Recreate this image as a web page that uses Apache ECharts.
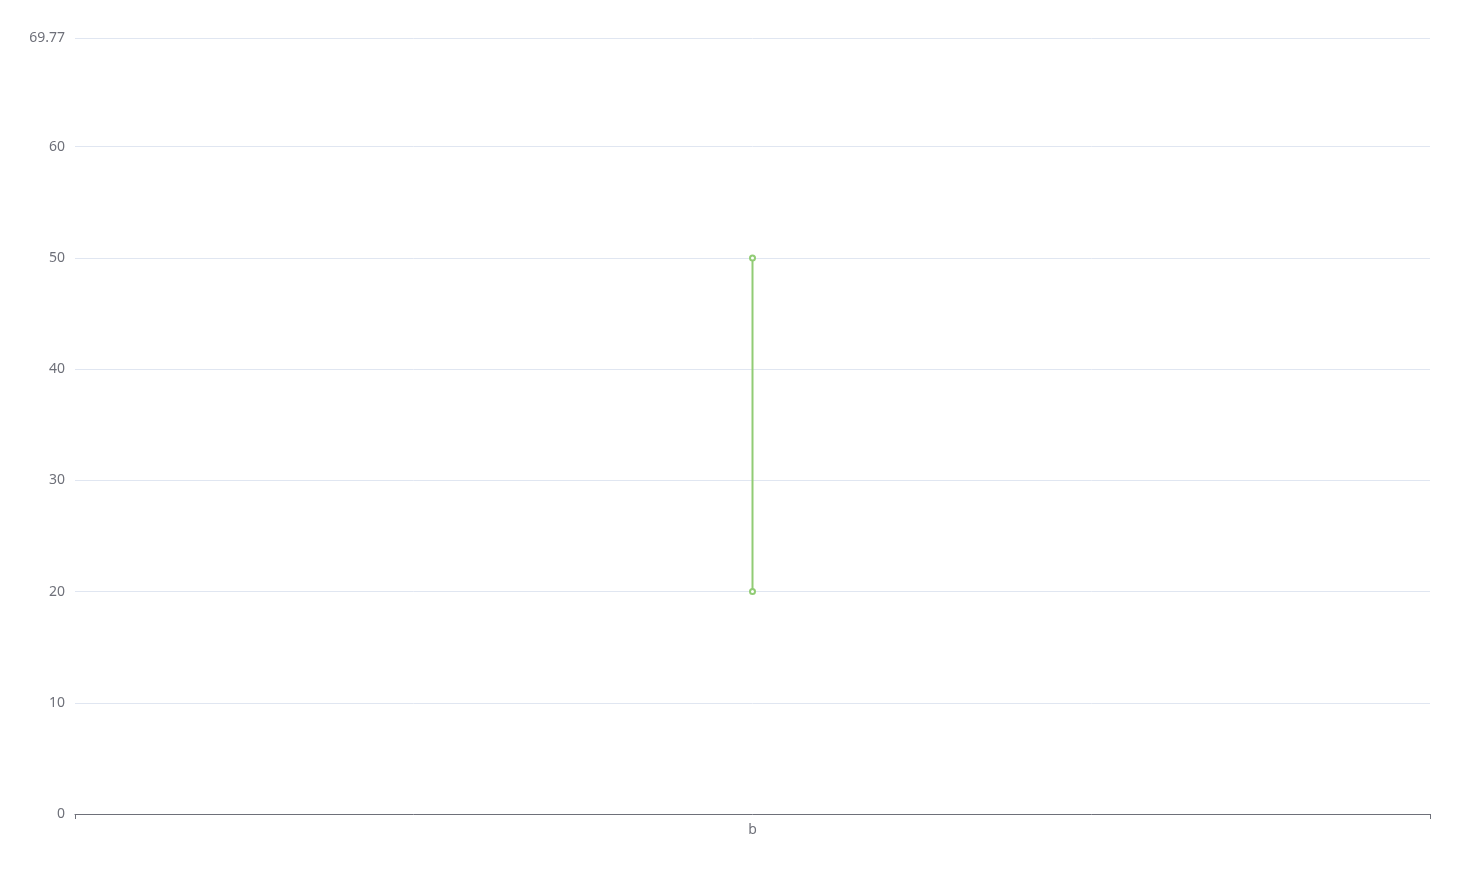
<!DOCTYPE html>
<html>
<head>
<meta charset="utf-8">
<style>
  html, body { margin: 0; padding: 0; background: #fff; }
  #chart { width: 1468px; height: 872px; }
</style>
<script src="https://cdn.jsdelivr.net/npm/echarts@6/dist/echarts.min.js"></script>
</head>
<body>
<div id="chart"></div>
<script>
  // data
  var categories = ['b'];
  var lowValues = [20];
  var highValues = [50];
  var yMax = 69.77;

  var chart = echarts.init(document.getElementById('chart'));

  // the range is drawn as a line between the low and high point on the same category
  var rangeData = [];
  for (var i = 0; i < categories.length; i++) {
    rangeData.push([categories[i], highValues[i]]);
    rangeData.push([categories[i], lowValues[i]]);
  }

  var option = {
    animation: false,
    textStyle: { fontFamily: 'Noto Sans, sans-serif' },
    grid: { left: 75, right: 38, top: 38, bottom: 58 },
    xAxis: {
      type: 'category',
      data: categories,
      axisLine: { lineStyle: { color: '#6E7079' } },
      axisTick: {
        show: true,
        length: 5,
        interval: function (idx) { return idx === 0; }
      },
      axisLabel: { color: '#6E7079', fontSize: 14, margin: 9 }
    },
    yAxis: {
      type: 'value',
      min: 0,
      max: yMax,
      interval: 10,
      axisLabel: { color: '#6E7079', fontSize: 14, margin: 10 },
      splitLine: { lineStyle: { color: '#E0E6F1' } }
    },
    series: [{
      type: 'line',
      data: rangeData,
      color: '#91cc75',
      symbol: 'emptyCircle',
      symbolSize: 5,
      lineStyle: { width: 2 }
    }]
  };

  chart.setOption(option);
</script>
</body>
</html>
